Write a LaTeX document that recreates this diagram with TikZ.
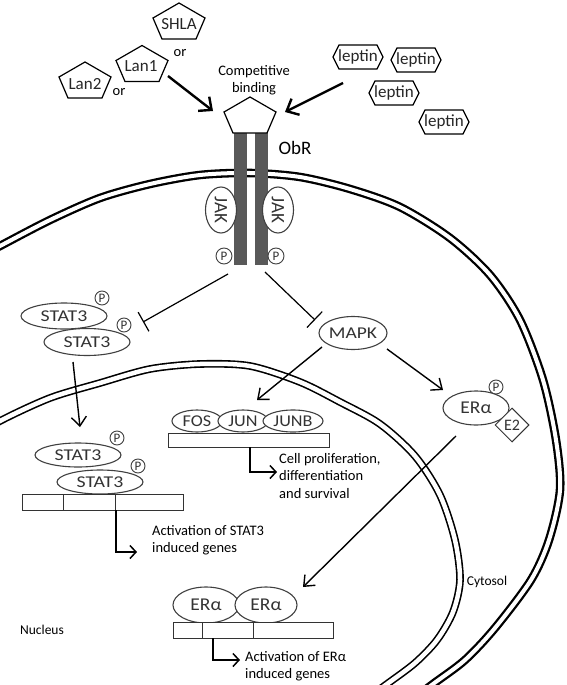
\documentclass[tikz,border=0pt]{standalone}
\usepackage{graphicx}
\usepackage{fontspec}
\setmainfont{Carlito}
\usetikzlibrary{shapes.geometric,arrows.meta}
\newcommand{\hs}[2]{\scalebox{#1}[1]{#2}}
\begin{document}
\begin{tikzpicture}[x=1pt,y=-1pt,
  membrane/.style={line width=2.3pt, double=white, double distance=4pt},
  nucmem/.style={line width=1.6pt, double=white, double distance=4.5pt},
  prot/.style={ellipse, draw=black!75, line width=1.1pt, fill=white, inner sep=0pt, font=\fontsize{16.5}{16.5}\selectfont, text=black!80},
  pcirc/.style={circle, draw=black!75, line width=0.9pt, fill=white, inner sep=0pt, minimum size=14pt, font=\fontsize{13}{13}\selectfont, text=black!80},
  lbl/.style={font=\fontsize{14.5}{17.5}\selectfont, align=left, anchor=west, inner sep=0pt},
  plain/.style={font=\fontsize{14.5}{17}\selectfont, inner sep=0pt},
  pentxt/.style={font=\fontsize{17}{17}\selectfont, inner sep=0pt, text=black!85},
  dna/.style={draw=black!80, line width=1pt, fill=white},
  gene/.style={line width=1.5pt, -{Straight Barb[length=6pt,width=13pt]}},
  act/.style={line width=1.4pt, -{Straight Barb[length=9pt,width=15pt]}},
  bigact/.style={line width=2.4pt, -{Straight Barb[length=10pt,width=18pt]}},
  inh/.style={line width=1.2pt, -{Bar[width=22pt]}},
  outl/.style={draw=black, line width=1.2pt, fill=white},
  rbar/.style={rectangle, fill=black!65, inner sep=0pt, minimum width=13pt, minimum height=132pt},
]
\useasboundingbox (0,0) rectangle (567,685);
% membranes
\begin{scope}
\clip (0,0) rectangle (567,685);
\draw[membrane] plot[smooth] coordinates {(-30,262) (0,246) (50,220) (100,198) (150,184) (200,175) (250,173) (300,177) (350,189) (400,207) (450,238) (490,275) (520,320) (543,380) (556,440) (560,490) (549,540) (531,580) (495,628) (465,660) (433,684) (405,705)};
\draw[nucmem] plot[smooth] coordinates {(-30,440) (0,421) (50,398) (100,383) (150,369) (200,364) (250,366) (300,382) (340,402) (380,424) (415,456) (440,495) (455,540) (460,580) (453,612) (437,640) (415,663) (387,684) (365,700)};
\end{scope}
% receptor
\node[rbar] (barl) at (240,199) {};
\node[rbar] (barr) at (261,199) {};
\foreach \cx/\cy in {179/21, 142/63.5, 85/80, 250/115} {
  \draw[outl, shift={(\cx,\cy)}] (0,-18) -- (26,-3) -- (17,18) -- (-17,18) -- (-26,-3) -- cycle;
}
\coordinate (rec) at (250,115);
\node[pentxt] (shla) at (179,24) {SHLA};
\node[pentxt] (lan1) at (141,66) {Lan1};
\node[pentxt] (lan2) at (85,84) {Lan2};
\node[plain] (or1) at (180,53) {or};
\node[plain] (or2) at (119,92) {or};
\node[plain, align=center] (comp) at (254,80) {Competitive\\binding};
\node[font=\fontsize{19}{19}\selectfont, inner sep=0pt] (obr) at (295,148) {ObR};
% leptins
\foreach \n/\x/\y in {1/358/57, 2/416/60, 3/394/93, 4/444/122} {
  \draw[outl, shift={(\x,\y)}] (-25,0) -- (-19,-12) -- (19,-12) -- (25,0) -- (19,12) -- (-19,12) -- cycle;
  \node[pentxt] (lep\n) at (\x,\y) {leptin};
}
% ligand arrows
\coordinate (l1s) at (168,76);
\coordinate (l1e) at (213,111);
\coordinate (lps) at (343,83);
\coordinate (lpe) at (285,112);
\draw[bigact] (l1s) -- (l1e);
\draw[bigact] (lps) -- (lpe);
% JAK and P
\node[prot, minimum width=31pt, minimum height=46pt, font=\fontsize{19}{19}\selectfont] (jakl) at (221,210) {\rotatebox{-90}{JAK}};
\node[prot, minimum width=31pt, minimum height=46pt, font=\fontsize{19}{19}\selectfont] (jakr) at (278,210) {\rotatebox{-90}{JAK}};
\node[pcirc, minimum size=16pt] (pl) at (224,256) {P};
\node[pcirc, minimum size=16pt] (pr) at (276,256) {P};
% inhibition lines
\coordinate (i1s) at (228,274);
\coordinate (i1e) at (143,322);
\coordinate (i2s) at (265,272);
\coordinate (i2e) at (315,320);
\draw[inh] (i1s) -- (i1e);
\draw[inh] (i2s) -- (i2e);
% cytosolic STAT3
\node[prot, minimum width=86pt, minimum height=26pt] (s1) at (64,316) {\hs{1.2}{STAT3}};
\node[pcirc] (s1p) at (102,298) {P};
\node[prot, minimum width=86pt, minimum height=27pt] (s2) at (87,342) {\hs{1.2}{STAT3}};
\node[pcirc] (s2p) at (124,325) {P};
\coordinate (sa) at (73,362);
\coordinate (sb) at (80,427);
\draw[act] (sa) -- (sb);
% nuclear STAT3
\node[prot, minimum width=86pt, minimum height=24pt] (s3) at (78,455) {\hs{1.2}{STAT3}};
\node[pcirc] (s3p) at (117,438) {P};
\node[prot, minimum width=86pt, minimum height=24pt] (s4) at (100,482) {\hs{1.2}{STAT3}};
\node[pcirc] (s4p) at (138,466) {P};
\draw[dna] (22,494) rectangle (183,510);
\draw[dna] (63,494) -- (63,510) (115,494) -- (115,510);
\coordinate (g1a) at (116,510);
\coordinate (g1b) at (137,552);
\draw[gene] (g1a) |- (g1b);
\node[lbl] (t1) at (152,540) {Activation of STAT3\\induced genes};
% MAPK
\node[prot, minimum width=67pt, minimum height=33pt] (mapk) at (353,333) {\hs{1.18}{MAPK}};
\coordinate (m1s) at (322,347);
\coordinate (m1e) at (257,400);
\coordinate (m2s) at (387,349);
\coordinate (m2e) at (443,390);
\draw[act] (m1s) -- (m1e);
\draw[act] (m2s) -- (m2e);
% FOS JUN JUNB
\node[prot, minimum width=50pt, minimum height=22pt] (fos) at (197,421) {\hs{1.1}{FOS}};
\node[prot, minimum width=50pt, minimum height=22pt] (jun) at (243,421) {\hs{1.1}{JUN}};
\node[prot, minimum width=60pt, minimum height=22pt] (junb) at (293,421) {\hs{1.1}{JUNB}};
\draw[dna] (168,433) rectangle (329,447);
\coordinate (g2a) at (250,447);
\coordinate (g2b) at (277,472);
\draw[gene] (g2a) |- (g2b);
\node[lbl] (t2) at (279,476) {Cell proliferation,\\differentiation\\and survival};
% cytosolic ERa
\node[prot, minimum width=66pt, minimum height=34pt, font=\fontsize{18}{18}\selectfont] (erc) at (476,408) {\hs{1.08}{ERα}};
\node[pcirc] (erp) at (496,387) {P};
\node[diamond, draw=black!80, line width=1pt, fill=white, inner sep=0pt, minimum size=34pt, font=\fontsize{16}{16}\selectfont, text=black!80] (e2) at (512,425) {E2};
\coordinate (e1s) at (456,436);
\coordinate (e1e) at (303,587);
\draw[act] (e1s) -- (e1e);
% nuclear ERa
\node[prot, minimum width=66pt, minimum height=36pt, font=\fontsize{18}{18}\selectfont] (er1) at (206,605) {\hs{1.08}{ERα}};
\node[prot, minimum width=62pt, minimum height=36pt, font=\fontsize{18}{18}\selectfont] (er2) at (266,605) {\hs{1.08}{ERα}};
\draw[dna] (173,622) rectangle (333,638);
\draw[dna] (202,622) -- (202,638) (253,622) -- (253,638);
\coordinate (g3a) at (213,638);
\coordinate (g3b) at (240,660);
\draw[gene] (g3a) |- (g3b);
\node[lbl] (t3) at (245,666) {Activation of ERα\\induced genes};
% compartment labels
\node[font=\fontsize{13.5}{13.5}\selectfont, inner sep=0pt] (nuc) at (42,630) {Nucleus};
\node[font=\fontsize{13.5}{13.5}\selectfont, inner sep=0pt] (cyt) at (487,582) {Cytosol};
\end{tikzpicture}
\end{document}
